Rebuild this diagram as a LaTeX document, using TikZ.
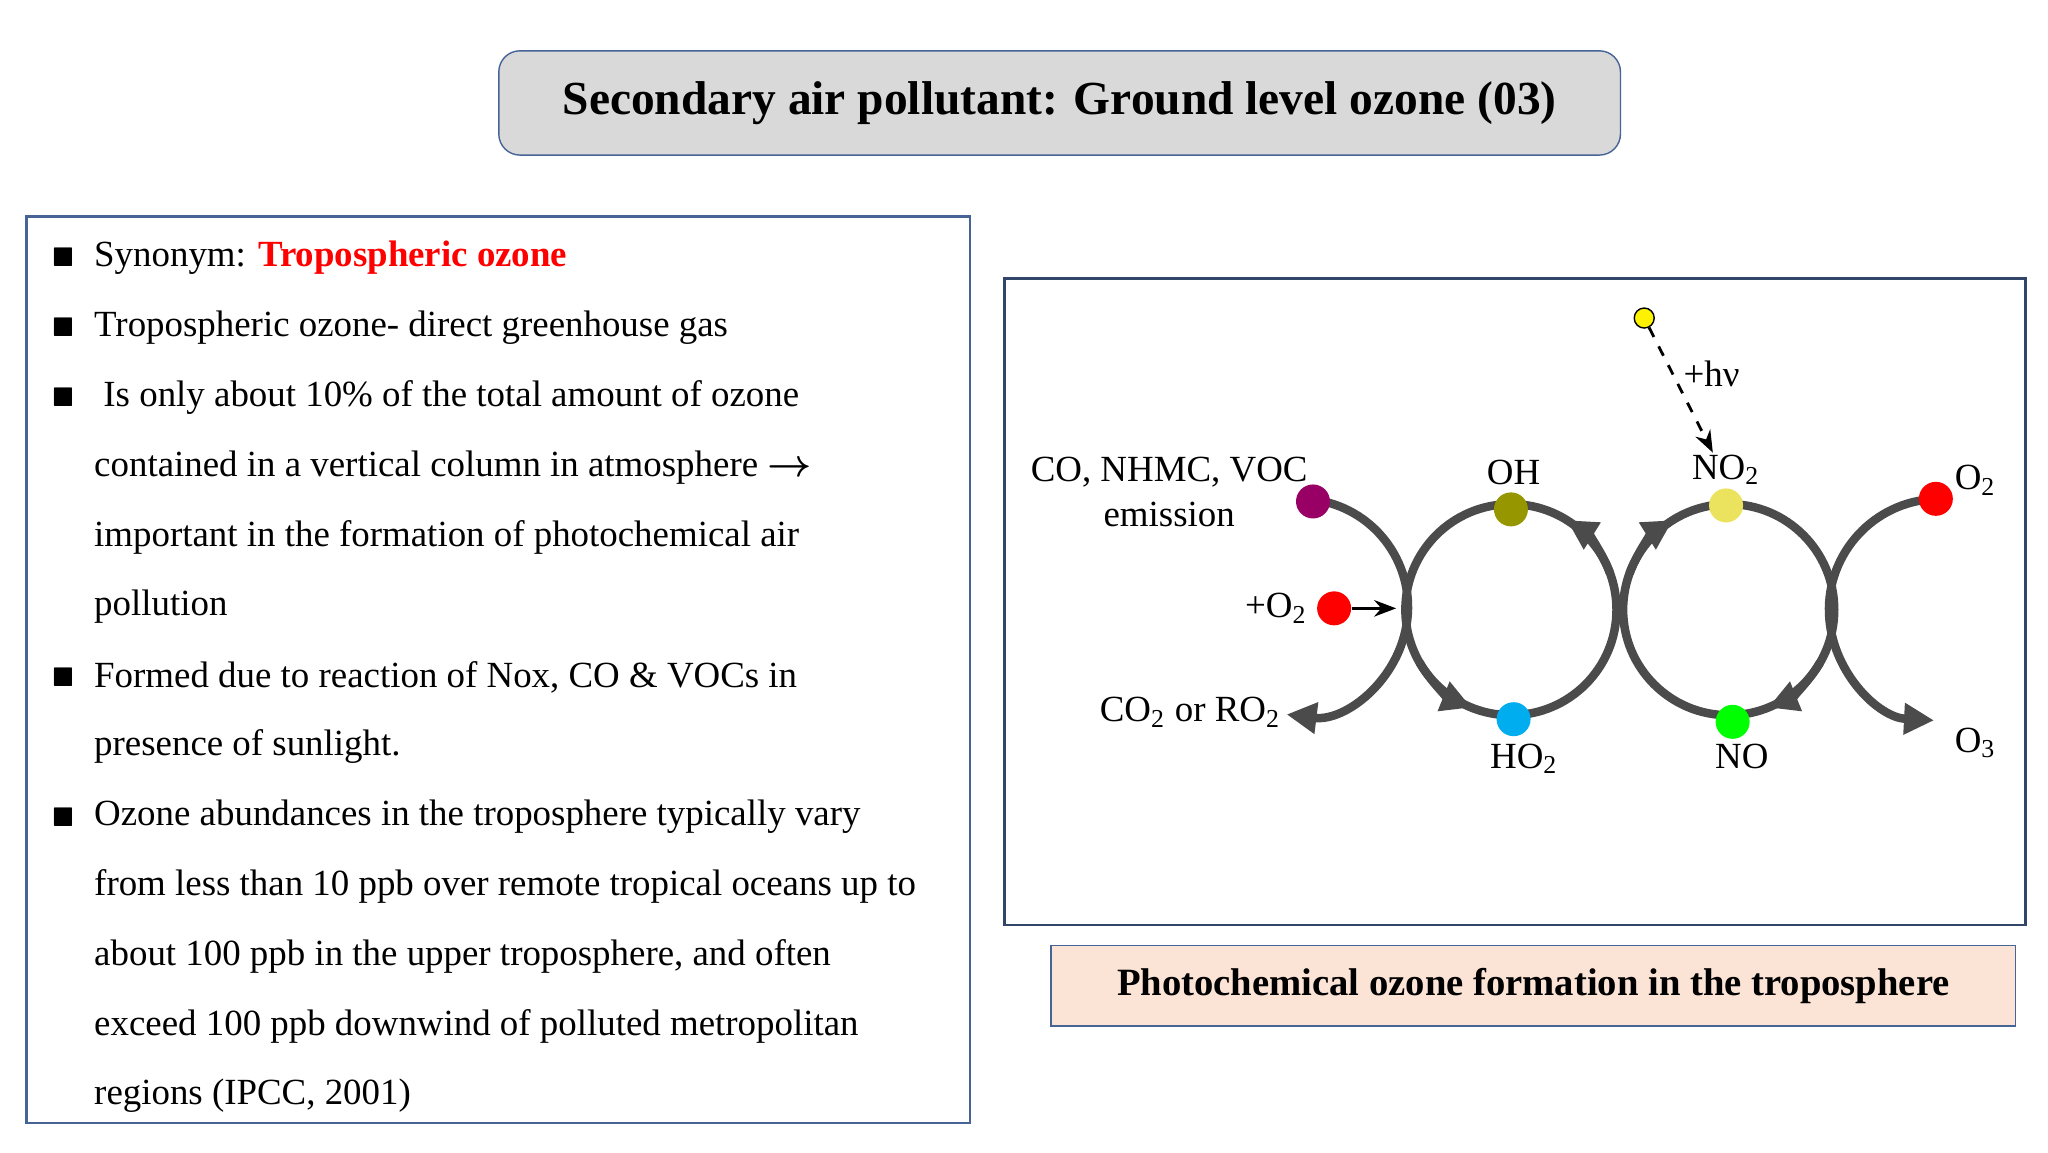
\documentclass[tikz,border=0pt]{standalone}
\usepackage{amsmath, amssymb}
\usepackage{fontspec}
\setmainfont{Liberation Serif}
\usetikzlibrary{positioning, arrows.meta}
\definecolor{framecolor}{RGB}{70,100,150}
\definecolor{cyclecolor}{RGB}{75,75,75}
\definecolor{peach}{RGB}{251,228,214}
\definecolor{olivedot}{RGB}{150,150,0}

\begin{document}
\begin{tikzpicture}[
    x=0.132mm, y=-0.132mm,
    bullet/.style={anchor=west, font=\fontsize{10.5}{12}\selectfont},
    dot/.style={circle, minimum size=3.4mm, inner sep=0pt},
    lab/.style={font=\fontsize{10.5}{12}\selectfont},
    cycle/.style={cyclecolor, line width=0.85mm},
    cyclearrow/.style={cyclecolor, line width=0.85mm, -{Triangle[length=3mm, width=3mm]}}
]
    \useasboundingbox (0,0) rectangle (1552,873);

    % Titre
    \node[draw=framecolor, fill=gray!30, rounded corners=6pt, minimum width=850*0.132mm, minimum height=79*0.132mm, font=\fontsize{13.5}{16}\selectfont\bfseries] (title) at (803,78) {Secondary air pollutant: Ground level ozone (03)};

    % Cadre gauche
    \draw[framecolor, thick] (20,164) rectangle (735,851);
    \foreach \y in {195,248,301,513,619}
        \node[bullet, font=\scriptsize] at (30,\y) {$\blacksquare$};
    \node[bullet] (b1) at (62,195) {Synonym: \textcolor{red}{\textbf{Tropospheric ozone}}};
    \node[bullet] (b2) at (62,248) {Tropospheric ozone- direct greenhouse gas};
    \node[bullet] (b3) at (62,301) {\ Is only about 10\% of the total amount of ozone};
    \node[bullet] (b3b) at (62,354) {contained in a vertical column in atmosphere $\boldsymbol{\rightarrow}$};
    \node[bullet] (b3c) at (62,407) {important in the formation of photochemical air};
    \node[bullet] (b3d) at (62,460) {pollution};
    \node[bullet] (b4) at (62,513) {Formed due to reaction of Nox, CO \& VOCs in};
    \node[bullet] (b4b) at (62,566) {presence of sunlight.};
    \node[bullet] (b5) at (62,619) {Ozone abundances in the troposphere typically vary};
    \node[bullet] (b5b) at (62,672) {from less than 10 ppb over remote tropical oceans up to};
    \node[bullet] (b5c) at (62,725) {about 100 ppb in the upper troposphere, and often};
    \node[bullet] (b5d) at (62,778) {exceed 100 ppb downwind of polluted metropolitan};
    \node[bullet] (b5e) at (62,830) {regions (IPCC, 2001)};

    % Cadre droit
    \draw[framecolor!70!black, thick] (761,211) rectangle (1535,701);

    % Cycles
    \draw[cycle] (1145,462) circle[radius=80];
    \draw[cycle] (1310,462) circle[radius=80];
    \draw[cyclearrow] (985,460) ++(-83:82) arc[start angle=-83, end angle=97, radius=82];
    \draw[cyclearrow] (1470,462) ++(-95:84) arc[start angle=-95, end angle=-267, radius=84];
    \draw[cyclearrow] (1145,462) ++(150:80) arc[start angle=150, end angle=112, radius=80];
    \draw[cyclearrow] (1145,462) ++(-20:80) arc[start angle=-20, end angle=-58, radius=80];
    \draw[cyclearrow] (1310,462) ++(-160:80) arc[start angle=-160, end angle=-122, radius=80];
    \draw[cyclearrow] (1310,462) ++(30:80) arc[start angle=30, end angle=68, radius=80];

    % Especes
    \node[dot, fill=violet!80!red] (voc) at (995,380) {};
    \node[dot, fill=olivedot] (oh) at (1145,386) {};
    \node[dot, fill=yellow!70!olive!60] (no2) at (1308,383) {};
    \node[dot, fill=red] (o2) at (1467,378) {};
    \node[dot, fill=red] (addo2) at (1011,461) {};
    \node[dot, fill=cyan] (ho2) at (1147,545) {};
    \node[dot, fill=green] (no) at (1313,547) {};
    \node[dot, fill=yellow, draw=black, minimum size=2mm] (photon) at (1246,241) {};
    \coordinate (addo2end) at (1058,461);
    \coordinate (photonend) at (1298,343);
    \draw[-{Stealth[length=2.2mm]}, thick] (addo2) -- (addo2end);
    \draw[-{Stealth[length=2.2mm]}, thick, dashed] (photon) -- (photonend);

    % Etiquettes
    \node[lab] at (886,358) {CO, NHMC, VOC};
    \node[lab] at (886,390) {emission};
    \node[lab] at (1147,358) {OH};
    \node[lab] at (1308,356) {NO\textsubscript{2}};
    \node[lab] at (1497,364) {O\textsubscript{2}};
    \node[lab, left] at (1000,461) {+O\textsubscript{2}};
    \node[lab] at (902,540) {CO\textsubscript{2} or RO\textsubscript{2}};
    \node[lab] at (1155,575) {HO\textsubscript{2}};
    \node[lab] at (1320,573) {NO};
    \node[lab] at (1497,563) {O\textsubscript{3}};
    \node[lab] at (1297,283) {+hν};

    % Legende
    \node[draw=framecolor, fill=peach, minimum width=731*0.132mm, minimum height=61*0.132mm, font=\fontsize{11}{13}\selectfont\bfseries] (caption) at (1162,747) {Photochemical ozone formation in the troposphere};
\end{tikzpicture}
\end{document}
